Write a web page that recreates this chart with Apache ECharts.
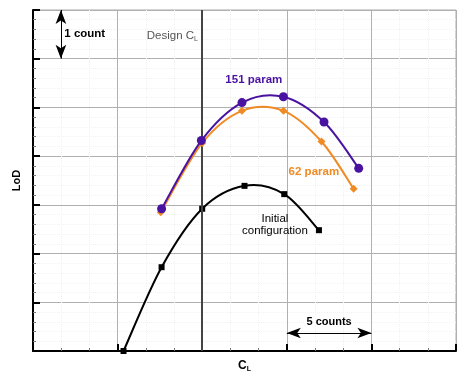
<!DOCTYPE html>
<html><head><meta charset="utf-8">
<script src="https://cdn.jsdelivr.net/npm/echarts@6/dist/echarts.min.js"></script>
<style>html,body{margin:0;padding:0;background:#fff}#c{width:474px;height:375px}</style>
</head><body><div id="c"></div>
<script>
// Data (x in major C_L divisions, y in major LoD divisions)
const initialCL  = [1.07, 1.52, 2.00, 2.50, 2.97, 3.38];
const initialLoD = [0.00, 1.72, 2.92, 3.39, 3.22, 2.48];
const p151CL  = [1.52, 1.99, 2.47, 2.96, 3.44, 3.85];
const p151LoD = [2.92, 4.32, 5.10, 5.22, 4.70, 3.75];
const p62CL  = [1.51, 2.00, 2.47, 2.96, 3.41, 3.79];
const p62LoD = [2.85, 4.27, 4.93, 4.93, 4.30, 3.33];
const designCL = 2.0;
const xRange = [0, 5];
const yRange = [0, 7];

const zip = (a, b) => a.map((v, i) => [v, b[i]]);
const FONT = 'Liberation Sans';
const PURPLE = '#4a12a0', ORANGE = '#f08a24';

function txt(coord, text, style) {
  return { coord, symbol: 'rect', symbolSize: 0,
    label: Object.assign({ show: true, position: 'inside', formatter: text,
      fontFamily: FONT, fontSize: 12, color: '#000' }, style) };
}

// Catmull-Rom spline drawn through the data points (pixel space via api.coord)
function splineSeries(name, xs, ys, color, z) {
  return {
    name, type: 'custom', z, silent: true,
    data: zip(xs, ys),
    encode: { x: 0, y: 1 },
    renderItem: function (params, api) {
      if (params.dataIndex !== 0) return null;
      const p = xs.map((x, i) => api.coord([x, ys[i]]));
      const n = p.length, children = [];
      for (let i = 0; i < n - 1; i++) {
        const p0 = p[Math.max(i - 1, 0)], p1 = p[i], p2 = p[i + 1], p3 = p[Math.min(i + 2, n - 1)];
        children.push({
          type: 'bezierCurve',
          shape: { x1: p1[0], y1: p1[1], x2: p2[0], y2: p2[1],
                   cpx1: p1[0] + (p2[0] - p0[0]) / 6, cpy1: p1[1] + (p2[1] - p0[1]) / 6,
                   cpx2: p2[0] - (p3[0] - p1[0]) / 6, cpy2: p2[1] - (p3[1] - p1[1]) / 6 },
          style: { stroke: color, lineWidth: 2, fill: null }
        });
      }
      return { type: 'group', children };
    }
  };
}
function markerSeries(name, xs, ys, color, symbol, size, z) {
  return { name, type: 'scatter', data: zip(xs, ys), symbol, symbolSize: size,
           itemStyle: { color, opacity: 1 }, z, silent: true };
}

const chart = echarts.init(document.getElementById('c'), null, { renderer: 'canvas' });
chart.setOption({
  animation: false,
  backgroundColor: '#fff',
  grid: { left: 33, top: 10, right: 18, bottom: 24, containLabel: false, outerBoundsMode: 'none',
          show: true, borderColor: '#aaa', borderWidth: 1 },
  xAxis: {
    type: 'value', min: xRange[0], max: xRange[1], interval: 1,
    name: '{a|C}{s|L}', nameLocation: 'middle', nameGap: 7,
    nameTextStyle: { rich: { a: { fontFamily: FONT, fontWeight: 'bold', fontSize: 12, color: '#000' },
                             s: { fontFamily: FONT, fontWeight: 'bold', fontSize: 7, color: '#000', padding: [8, 0, 0, 0] } } },
    axisLine: { show: true, onZero: false, lineStyle: { color: '#000', width: 2 } },
    axisTick: { show: true, inside: true, length: 7, lineStyle: { color: '#000', width: 2 } },
    minorTick: { show: true, splitNumber: 3, length: 3, lineStyle: { color: '#777', width: 1 } },
    axisLabel: { show: false },
    splitLine: { show: true, lineStyle: { color: '#b0b0b0', width: 1 } },
    minorSplitLine: { show: true, lineStyle: { color: '#f2f2f2', width: 1, type: 'dotted' } }
  },
  yAxis: {
    type: 'value', min: yRange[0], max: yRange[1], interval: 1,
    name: 'LoD', nameLocation: 'middle', nameGap: 11, nameRotate: 90,
    nameTextStyle: { fontFamily: FONT, fontWeight: 'bold', fontSize: 11, color: '#000' },
    axisLine: { show: true, onZero: false, lineStyle: { color: '#000', width: 2 } },
    axisTick: { show: true, inside: true, length: 7, lineStyle: { color: '#000', width: 2 } },
    minorTick: { show: true, splitNumber: 5, length: 3, lineStyle: { color: '#777', width: 1 } },
    axisLabel: { show: false },
    splitLine: { show: true, lineStyle: { color: '#b0b0b0', width: 1 } },
    minorSplitLine: { show: true, lineStyle: { color: '#f2f2f2', width: 1, type: 'dotted' } }
  },
  series: [
    {
      name: 'annotations', type: 'line', data: [], silent: true,
      markLine: {
        silent: true, animation: false, label: { show: false },
        data: [
          [{ coord: [designCL, yRange[0]], symbol: 'none', lineStyle: { color: '#444', width: 2, type: 'solid' } },
           { coord: [designCL, yRange[1]], symbol: 'none' }],
          [{ coord: [0.33, 6], symbol: 'arrow', symbolSize: [8, 14], lineStyle: { color: '#000', width: 1, type: 'solid' } },
           { coord: [0.33, 7], symbol: 'arrow', symbolSize: [8, 14] }],
          [{ coord: [3, 0.37], symbol: 'arrow', symbolSize: [8, 14], lineStyle: { color: '#000', width: 1, type: 'solid' } },
           { coord: [4, 0.37], symbol: 'arrow', symbolSize: [8, 14] }]
        ]
      },
      markPoint: {
        silent: true, animation: false,
        data: [
          txt([0.37, 6.51], '1 count', { fontWeight: 'bold', fontSize: 11.5, position: 'right', distance: 0 }),
          txt([1.95, 6.48], '{a|Design C}{s|L}', { position: 'left', distance: 0,
             rich: { a: { fontFamily: FONT, fontSize: 11.5, color: '#555' },
                     s: { fontFamily: FONT, fontSize: 7, color: '#555', padding: [8, 0, 0, 0] } } }),
          txt([2.61, 5.56], '151 param', { fontWeight: 'bold', fontSize: 11.5, color: PURPLE }),
          txt([3.32, 3.68], '62 param', { fontWeight: 'bold', fontSize: 11.5, color: ORANGE }),
          txt([2.86, 2.6], 'Initial\nconfiguration', { fontSize: 11.5, lineHeight: 12, align: 'center' }),
          txt([3.5, 0.6], '5 counts', { fontWeight: 'bold', fontSize: 11 })
        ]
      }
    },
    splineSeries('Initial configuration', initialCL, initialLoD, '#000', 3),
    markerSeries('Initial configuration pts', initialCL, initialLoD, '#000', 'rect', 6, 4),
    splineSeries('62 param', p62CL, p62LoD, ORANGE, 5),
    markerSeries('62 param pts', p62CL, p62LoD, ORANGE, 'diamond', 8, 6),
    splineSeries('151 param', p151CL, p151LoD, PURPLE, 7),
    markerSeries('151 param pts', p151CL, p151LoD, PURPLE, 'circle', 9, 8)
  ]
});
</script></body></html>
